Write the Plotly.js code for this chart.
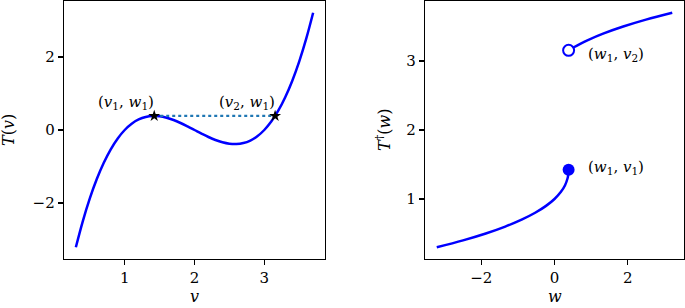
<!DOCTYPE html>
<html>
<head>
<meta charset="utf-8">
<script src="https://cdn.plot.ly/plotly-3.0.1.min.js"></script>
<style>html,body{margin:0;padding:0;background:#fff;}#plot{width:685px;height:308px;}</style>
</head>
<body>
<div id="plot"></div>
<script>
// Left panel: T(v)
const vValues = [0.3,0.4,0.5,0.6,0.7,0.8,0.9,1.0,1.1,1.2,1.3,1.4,1.5,1.6,1.7,1.8,1.9,2.0,
  2.1,2.2,2.3,2.4,2.5,2.6,2.7,2.8,2.9,3.0,3.1,3.2,3.3,3.4,3.5,3.6,3.7];
const tValues = [-3.213,-2.496,-1.875,-1.344,-0.897,-0.528,-0.231,0,0.171,0.288,0.357,0.384,0.375,0.336,0.273,0.192,0.099,0,
  -0.099,-0.192,-0.273,-0.336,-0.375,-0.384,-0.357,-0.288,-0.171,0,0.231,0.528,0.897,1.344,1.875,2.496,3.213];
// Marked points
const v1 = 1.423, v2 = 3.155, w1 = 0.385;
// Right panel: inverse branches T†(w)
const wLower = [-3.213,-2.496,-1.875,-1.344,-0.897,-0.528,-0.231,0,0.171,0.288,0.357,0.375,0.382,0.385];
const vLower = [0.3,0.4,0.5,0.6,0.7,0.8,0.9,1.0,1.1,1.2,1.3,1.35,1.38,1.423];
const wUpper = [0.385,0.528,0.703,0.897,1.344,1.875,2.496,3.213];
const vUpper = [3.155,3.2,3.25,3.3,3.4,3.5,3.6,3.7];
// Ticks
const xTicks1 = [1,2,3], yTicks1 = [-2,0,2];
const xTicks2 = [-2,0,2], yTicks2 = [1,2,3];

const FONT = 'DejaVu Serif';
const traces = [
  {x: vValues, y: tValues, mode:'lines', line:{color:'#0000ff', width:2.5, shape:'spline'}, xaxis:'x', yaxis:'y'},
  {x: [v1, v2], y: [w1, w1], mode:'lines', line:{color:'#1f77b4', width:2.2, dash:'dot'}, xaxis:'x', yaxis:'y'},
  {x: [v1, v2], y: [w1, w1], mode:'markers', marker:{symbol:'star', color:'black', size:9}, xaxis:'x', yaxis:'y'},
  {x: wLower, y: vLower, mode:'lines', line:{color:'#0000ff', width:2.5, shape:'spline'}, xaxis:'x2', yaxis:'y2'},
  {x: wUpper, y: vUpper, mode:'lines', line:{color:'#0000ff', width:2.5, shape:'spline'}, xaxis:'x2', yaxis:'y2'},
  {x: [w1], y: [v1], mode:'markers', marker:{color:'#0000ff', size:12}, xaxis:'x2', yaxis:'y2'},
  {x: [w1], y: [v2], mode:'markers', marker:{color:'white', size:11, line:{color:'#0000ff', width:2}}, xaxis:'x2', yaxis:'y2'}
];
const axBase = {showline:true, mirror:true, linecolor:'black', linewidth:1.3, ticks:'outside', ticklen:5, tickwidth:1.2,
  tickcolor:'black', showgrid:false, zeroline:false, tickfont:{family:FONT, size:15, color:'black'}, automargin:false};
const ydom = [1-259/308, 1-1/308];
const TF = {family:FONT, size:16, color:'black'};
const AF = {family:FONT, size:15, color:'black'};
const layout = {
  width:685, height:308, margin:{l:0,r:0,t:0,b:0}, showlegend:false,
  paper_bgcolor:'white', plot_bgcolor:'white', font:{family:FONT, color:'black'},
  xaxis: Object.assign({}, axBase, {domain:[64/685, 325/685], range:[0.13,3.87], tickvals:xTicks1, anchor:'y'}),
  yaxis: Object.assign({}, axBase, {domain:ydom, range:[-3.534,3.534], tickvals:yTicks1, anchor:'x'}),
  xaxis2: Object.assign({}, axBase, {domain:[425/685, 684/685], range:[-3.534,3.534], tickvals:xTicks2, anchor:'y2'}),
  yaxis2: Object.assign({}, axBase, {domain:ydom, range:[0.13,3.87], tickvals:yTicks2, anchor:'x2'}),
  annotations: [
    // axis titles
    {x:(64+325)/2/685, y:0, xref:'paper', yref:'paper', text:'<i>v</i>', showarrow:false, xanchor:'center', yanchor:'bottom', font:TF},
    {x:8/685, y:1-130/308, xref:'paper', yref:'paper', text:'<i>T</i>(<i>v</i>)', textangle:-90, showarrow:false, xanchor:'center', yanchor:'middle', font:TF},
    {x:(425+684)/2/685, y:0, xref:'paper', yref:'paper', text:'<i>w</i>', showarrow:false, xanchor:'center', yanchor:'bottom', font:TF},
    {x:383/685, y:1-130/308, xref:'paper', yref:'paper', text:'<i>T</i><sup>†</sup>(<i>w</i>)', textangle:-90, showarrow:false, xanchor:'center', yanchor:'middle', font:TF},
    // point labels
    {x:v1, y:w1, xref:'x', yref:'y', text:'(<i>v</i><sub>1</sub>, <i>w</i><sub>1</sub>)', showarrow:false,
      xanchor:'right', yanchor:'bottom', xshift:2, yshift:2, font:AF},
    {x:v2, y:w1, xref:'x', yref:'y', text:'(<i>v</i><sub>2</sub>, <i>w</i><sub>1</sub>)', showarrow:false,
      xanchor:'right', yanchor:'bottom', xshift:2, yshift:2, font:AF},
    {x:w1, y:v2, xref:'x2', yref:'y2', text:'(<i>w</i><sub>1</sub>, <i>v</i><sub>2</sub>)', showarrow:false,
      xanchor:'left', yanchor:'middle', xshift:17, yshift:-4, font:AF},
    {x:w1, y:v1, xref:'x2', yref:'y2', text:'(<i>w</i><sub>1</sub>, <i>v</i><sub>1</sub>)', showarrow:false,
      xanchor:'left', yanchor:'middle', xshift:17, yshift:2, font:AF}
  ]
};
Plotly.newPlot('plot', traces, layout, {staticPlot:true, displayModeBar:false});
</script>
</body>
</html>
